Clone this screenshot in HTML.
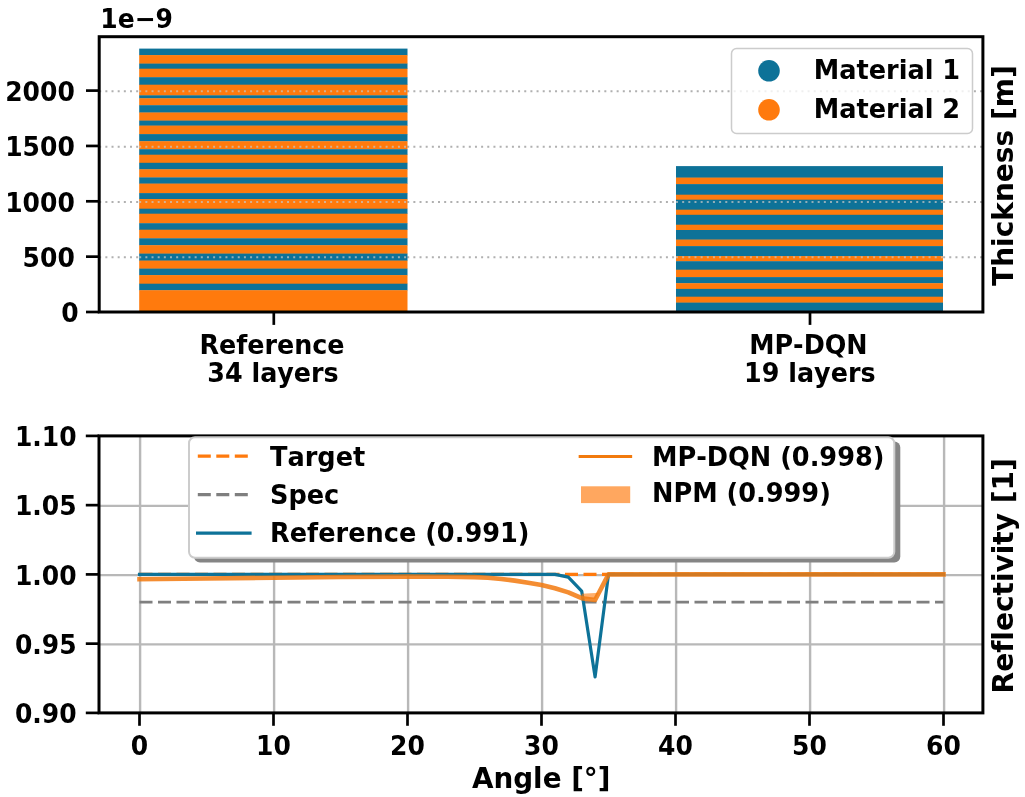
<!DOCTYPE html>
<html lang="en"><head><meta charset="utf-8"><title>Layer stacks and reflectivity</title>
<style>html,body{margin:0;padding:0;background:#fff}body{width:1025px;height:797px;overflow:hidden}svg{display:block}text{font-family:"DejaVu Sans","Liberation Sans",sans-serif;font-weight:bold;fill:#000;font-variant-ligatures:none;font-kerning:none;font-feature-settings:"liga" 0,"clig" 0}</style></head><body>
<svg width="1025" height="797" viewBox="0 0 1025 797">
<defs><filter id="soft" filterUnits="userSpaceOnUse" x="-20" y="-20" width="1065" height="837"><feGaussianBlur stdDeviation="0.75"/></filter></defs>
<rect x="0" y="0" width="1025" height="797" fill="#fff"/>
<g filter="url(#soft)">
<rect x="-20" y="-20" width="1065" height="837" fill="#fff"/>
<g stroke="#b0b0b0" stroke-width="2" stroke-dasharray="2 4.16" fill="none">
<line x1="99.2" y1="257.35" x2="982.9" y2="257.35"/>
<line x1="99.2" y1="202.00" x2="982.9" y2="202.00"/>
<line x1="99.2" y1="146.65" x2="982.9" y2="146.65"/>
<line x1="99.2" y1="91.30" x2="982.9" y2="91.30"/>
</g>
<g>
<rect x="139.2" y="48.6" width="268.3" height="6.8" fill="#0e7298"/>
<rect x="139.2" y="55.1" width="268.3" height="8.8" fill="#ff7a0a"/>
<rect x="139.2" y="63.6" width="268.3" height="5.4" fill="#0e7298"/>
<rect x="139.2" y="68.7" width="268.3" height="8.8" fill="#ff7a0a"/>
<rect x="139.2" y="77.2" width="268.3" height="7.8" fill="#0e7298"/>
<rect x="139.2" y="84.7" width="268.3" height="10.9" fill="#ff7a0a"/>
<rect x="139.2" y="95.3" width="268.3" height="3.3" fill="#0e7298"/>
<rect x="139.2" y="98.3" width="268.3" height="7.2" fill="#ff7a0a"/>
<rect x="139.2" y="105.2" width="268.3" height="7.6" fill="#0e7298"/>
<rect x="139.2" y="112.5" width="268.3" height="8.4" fill="#ff7a0a"/>
<rect x="139.2" y="120.6" width="268.3" height="5.3" fill="#0e7298"/>
<rect x="139.2" y="125.6" width="268.3" height="8.8" fill="#ff7a0a"/>
<rect x="139.2" y="134.1" width="268.3" height="7.4" fill="#0e7298"/>
<rect x="139.2" y="141.2" width="268.3" height="8.3" fill="#ff7a0a"/>
<rect x="139.2" y="149.2" width="268.3" height="5.8" fill="#0e7298"/>
<rect x="139.2" y="154.7" width="268.3" height="8.4" fill="#ff7a0a"/>
<rect x="139.2" y="162.8" width="268.3" height="6.8" fill="#0e7298"/>
<rect x="139.2" y="169.3" width="268.3" height="8.4" fill="#ff7a0a"/>
<rect x="139.2" y="177.4" width="268.3" height="6.5" fill="#0e7298"/>
<rect x="139.2" y="183.6" width="268.3" height="9.8" fill="#ff7a0a"/>
<rect x="139.2" y="193.1" width="268.3" height="6.3" fill="#0e7298"/>
<rect x="139.2" y="199.1" width="268.3" height="9.9" fill="#ff7a0a"/>
<rect x="139.2" y="208.7" width="268.3" height="5.3" fill="#0e7298"/>
<rect x="139.2" y="213.7" width="268.3" height="9.8" fill="#ff7a0a"/>
<rect x="139.2" y="223.2" width="268.3" height="6.8" fill="#0e7298"/>
<rect x="139.2" y="229.7" width="268.3" height="8.9" fill="#ff7a0a"/>
<rect x="139.2" y="238.3" width="268.3" height="7.2" fill="#0e7298"/>
<rect x="139.2" y="245.2" width="268.3" height="8.7" fill="#ff7a0a"/>
<rect x="139.2" y="253.6" width="268.3" height="7.3" fill="#0e7298"/>
<rect x="139.2" y="260.6" width="268.3" height="8.3" fill="#ff7a0a"/>
<rect x="139.2" y="268.6" width="268.3" height="6.8" fill="#0e7298"/>
<rect x="139.2" y="275.1" width="268.3" height="8.9" fill="#ff7a0a"/>
<rect x="139.2" y="283.7" width="268.3" height="6.8" fill="#0e7298"/>
<rect x="139.2" y="290.2" width="268.3" height="22.1" fill="#ff7a0a"/>
</g>
<g>
<rect x="676.0" y="166.1" width="267.0" height="11.8" fill="#0e7298"/>
<rect x="676.0" y="177.6" width="267.0" height="6.8" fill="#ff7a0a"/>
<rect x="676.0" y="184.1" width="267.0" height="10.9" fill="#0e7298"/>
<rect x="676.0" y="194.7" width="267.0" height="5.3" fill="#ff7a0a"/>
<rect x="676.0" y="199.7" width="267.0" height="10.3" fill="#0e7298"/>
<rect x="676.0" y="209.7" width="267.0" height="5.4" fill="#ff7a0a"/>
<rect x="676.0" y="214.8" width="267.0" height="10.2" fill="#0e7298"/>
<rect x="676.0" y="224.7" width="267.0" height="5.6" fill="#ff7a0a"/>
<rect x="676.0" y="230.0" width="267.0" height="9.9" fill="#0e7298"/>
<rect x="676.0" y="239.6" width="267.0" height="6.8" fill="#ff7a0a"/>
<rect x="676.0" y="246.1" width="267.0" height="10.3" fill="#0e7298"/>
<rect x="676.0" y="256.1" width="267.0" height="5.4" fill="#ff7a0a"/>
<rect x="676.0" y="261.2" width="267.0" height="8.8" fill="#0e7298"/>
<rect x="676.0" y="269.7" width="267.0" height="7.7" fill="#ff7a0a"/>
<rect x="676.0" y="277.1" width="267.0" height="6.4" fill="#0e7298"/>
<rect x="676.0" y="283.2" width="267.0" height="6.0" fill="#ff7a0a"/>
<rect x="676.0" y="288.9" width="267.0" height="8.1" fill="#0e7298"/>
<rect x="676.0" y="296.7" width="267.0" height="6.2" fill="#ff7a0a"/>
<rect x="676.0" y="302.6" width="267.0" height="9.7" fill="#0e7298"/>
</g>
<g stroke="#c8c8c8" stroke-opacity="0.7" stroke-width="2" stroke-dasharray="2 4.16" fill="none">
<line x1="139.2" y1="257.35" x2="407.5" y2="257.35"/>
<line x1="676" y1="257.35" x2="943" y2="257.35"/>
<line x1="139.2" y1="202.00" x2="407.5" y2="202.00"/>
<line x1="676" y1="202.00" x2="943" y2="202.00"/>
<line x1="139.2" y1="146.65" x2="407.5" y2="146.65"/>
<line x1="139.2" y1="91.30" x2="407.5" y2="91.30"/>
</g>
<g stroke="#000" stroke-width="2.7" fill="none">
<line x1="86.0" y1="312.00" x2="99.2" y2="312.00"/>
<line x1="86.0" y1="256.65" x2="99.2" y2="256.65"/>
<line x1="86.0" y1="201.30" x2="99.2" y2="201.30"/>
<line x1="86.0" y1="145.95" x2="99.2" y2="145.95"/>
<line x1="86.0" y1="90.60" x2="99.2" y2="90.60"/>
<line x1="273.8" y1="312.0" x2="273.8" y2="324.9"/>
<line x1="810.0" y1="312.0" x2="810.0" y2="324.9"/>
</g>
<rect x="99.2" y="36.7" width="883.6999999999999" height="275.3" fill="none" stroke="#000" stroke-width="3"/>
<text transform="translate(78.6 322.30) scale(1 1.05)" font-size="25" text-anchor="end">0</text>
<text transform="translate(74.8 266.95) scale(1 1.05)" font-size="25" text-anchor="end">500</text>
<text transform="translate(74.8 211.60) scale(1 1.05)" font-size="25" text-anchor="end">1000</text>
<text transform="translate(74.8 156.25) scale(1 1.05)" font-size="25" text-anchor="end">1500</text>
<text transform="translate(74.8 100.90) scale(1 1.05)" font-size="25" text-anchor="end">2000</text>
<text transform="translate(100.3 28.3) scale(1 1.05)" font-size="25">1e−9</text>
<text transform="translate(272.0 353.9) scale(1 1.05)" font-size="25.4" text-anchor="middle">Reference</text>
<text transform="translate(273.0 382.4) scale(1 1.05)" font-size="25.4" text-anchor="middle">34 layers</text>
<text transform="translate(808.4 353.9) scale(1 1.05)" font-size="25.4" text-anchor="middle">MP-DQN</text>
<text transform="translate(809.8 382.4) scale(1 1.05)" font-size="25.4" text-anchor="middle">19 layers</text>
<text transform="translate(1013,175.6) rotate(-90)" font-size="28" text-anchor="middle">Thickness [m]</text>
<rect x="731.5" y="48.5" width="241" height="85" rx="5" ry="5" fill="#fff" fill-opacity="0.8" stroke="#cccccc" stroke-width="1.5"/>
<circle cx="769" cy="70.8" r="10.8" fill="#0e7298"/>
<circle cx="769" cy="109.8" r="10.8" fill="#ff7a0a"/>
<text transform="translate(813.7 79.2) scale(1 1.05)" font-size="25.6">Material 1</text>
<text transform="translate(813.7 118.2) scale(1 1.05)" font-size="25.6">Material 2</text>
<g stroke="#b8b8b8" stroke-width="2.4" fill="none">
<line x1="140.10" y1="435.9" x2="140.10" y2="712.9"/>
<line x1="274.10" y1="435.9" x2="274.10" y2="712.9"/>
<line x1="408.10" y1="435.9" x2="408.10" y2="712.9"/>
<line x1="542.10" y1="435.9" x2="542.10" y2="712.9"/>
<line x1="676.10" y1="435.9" x2="676.10" y2="712.9"/>
<line x1="810.10" y1="435.9" x2="810.10" y2="712.9"/>
<line x1="944.10" y1="435.9" x2="944.10" y2="712.9"/>
<line x1="99.0" y1="644.35" x2="982.9" y2="644.35"/>
<line x1="99.0" y1="575.10" x2="982.9" y2="575.10"/>
<line x1="99.0" y1="505.85" x2="982.9" y2="505.85"/>
</g>
<line x1="139.5" y1="574.40" x2="943.5" y2="574.40" stroke="#ff7a0a" stroke-width="3.2" stroke-dasharray="13 5.5"/>
<line x1="139.5" y1="602.10" x2="943.5" y2="602.10" stroke="#7f7f7f" stroke-width="2.9" stroke-dasharray="13 5.5"/>
<polyline fill="none" stroke="#0e7298" stroke-width="3.2" stroke-linecap="square" stroke-linejoin="round" points="139.5,574.40 554.9,574.40 568.3,577.17 581.7,591.02 595.1,676.89 608.5,574.40 943.5,574.40"/>
<polygon fill="#ff7a0a" fill-opacity="0.6" points="581.7,598.6 581.7,593.8 595.1,593.1 599.1,592.4 595.1,599.3"/>
<polyline fill="none" stroke="#f27a10" stroke-width="4.6" stroke-opacity="0.86" stroke-linecap="square" stroke-linejoin="round" points="139.5,579.25 206.5,578.55 273.5,577.72 340.5,577.03 407.5,576.62 447.7,576.75 474.5,577.17 487.9,577.72 501.3,578.97 514.7,580.63 528.1,582.71 541.5,585.06 554.9,588.25 568.3,592.40 581.7,598.22 595.1,600.02 608.5,574.40 943.5,574.40"/>
<g stroke="#000" stroke-width="2.7" fill="none">
<line x1="85.8" y1="712.90" x2="99.0" y2="712.90"/>
<line x1="85.8" y1="643.65" x2="99.0" y2="643.65"/>
<line x1="85.8" y1="574.40" x2="99.0" y2="574.40"/>
<line x1="85.8" y1="505.15" x2="99.0" y2="505.15"/>
<line x1="85.8" y1="435.90" x2="99.0" y2="435.90"/>
<line x1="139.50" y1="712.9" x2="139.50" y2="725.8"/>
<line x1="273.50" y1="712.9" x2="273.50" y2="725.8"/>
<line x1="407.50" y1="712.9" x2="407.50" y2="725.8"/>
<line x1="541.50" y1="712.9" x2="541.50" y2="725.8"/>
<line x1="675.50" y1="712.9" x2="675.50" y2="725.8"/>
<line x1="809.50" y1="712.9" x2="809.50" y2="725.8"/>
<line x1="943.50" y1="712.9" x2="943.50" y2="725.8"/>
</g>
<rect x="99.0" y="435.9" width="883.9" height="277.0" fill="none" stroke="#000" stroke-width="3"/>
<text transform="translate(76.6 723.20) scale(1 1.05)" font-size="25" text-anchor="end">0.90</text>
<text transform="translate(76.6 653.95) scale(1 1.05)" font-size="25" text-anchor="end">0.95</text>
<text transform="translate(76.6 584.70) scale(1 1.05)" font-size="25" text-anchor="end">1.00</text>
<text transform="translate(76.6 515.45) scale(1 1.05)" font-size="25" text-anchor="end">1.05</text>
<text transform="translate(76.6 446.20) scale(1 1.05)" font-size="25" text-anchor="end">1.10</text>
<text transform="translate(139.50 754.6) scale(1 1.05)" font-size="25" text-anchor="middle">0</text>
<text transform="translate(273.50 754.6) scale(1 1.05)" font-size="25" text-anchor="middle">10</text>
<text transform="translate(407.50 754.6) scale(1 1.05)" font-size="25" text-anchor="middle">20</text>
<text transform="translate(541.50 754.6) scale(1 1.05)" font-size="25" text-anchor="middle">30</text>
<text transform="translate(675.50 754.6) scale(1 1.05)" font-size="25" text-anchor="middle">40</text>
<text transform="translate(809.50 754.6) scale(1 1.05)" font-size="25" text-anchor="middle">50</text>
<text transform="translate(943.50 754.6) scale(1 1.05)" font-size="25" text-anchor="middle">60</text>
<text x="541.2" y="788.3" font-size="27.8" text-anchor="middle">Angle [°]</text>
<text transform="translate(1013,575.8) rotate(-90)" font-size="28" text-anchor="middle">Reflectivity [1]</text>
<rect x="194" y="441.5" width="706.3" height="121" rx="6" ry="6" fill="#858585"/>
<rect x="189" y="437.2" width="705.3" height="120.6" rx="6" ry="6" fill="#fff" stroke="#cccccc" stroke-width="2"/>
<line x1="197.8" y1="456.2" x2="250" y2="456.2" stroke="#ff7a0a" stroke-width="3.2" stroke-dasharray="13 5.5"/>
<line x1="197.8" y1="494.6" x2="250" y2="494.6" stroke="#7f7f7f" stroke-width="3.2" stroke-dasharray="13 5.5"/>
<line x1="197.6" y1="533.2" x2="250" y2="533.2" stroke="#0e7298" stroke-width="3.2" stroke-linecap="square"/>
<text transform="translate(270 465.5) scale(1 1.05)" font-size="25.6">Target</text>
<text transform="translate(270 503.6) scale(1 1.05)" font-size="25.6">Spec</text>
<text transform="translate(270 541.7) scale(1 1.05)" font-size="25.6">Reference (0.991)</text>
<line x1="580.2" y1="456.5" x2="630.6" y2="456.5" stroke="#f27a10" stroke-width="3.1" stroke-linecap="square"/>
<rect x="581" y="486.3" width="49.2" height="16.8" fill="#ff7a0a" fill-opacity="0.66"/>
<text transform="translate(652 465.5) scale(1 1.05)" font-size="25.6">MP-DQN (0.998)</text>
<text transform="translate(652 502.4) scale(1 1.05)" font-size="25.6">NPM (0.999)</text>
</g>
</svg></body></html>
